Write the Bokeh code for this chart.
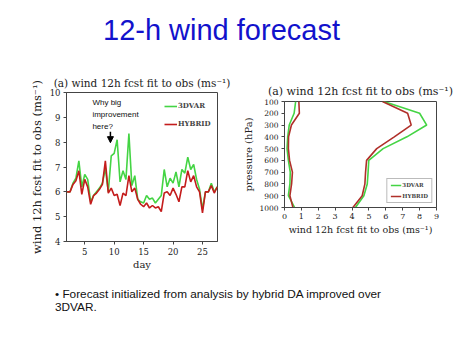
from bokeh.plotting import figure
from bokeh.layouts import column, row
from bokeh.models import (Div, Range1d, Legend, LegendItem, Label, Arrow,
                          NormalHead, FixedTicker, Title)
from bokeh.embed import file_html
from bokeh.resources import INLINE

# ---------------- data ----------------
days = [2.0, 2.5, 3.0, 3.5, 4.0, 4.5, 5.0, 5.5, 6.0, 6.5, 7.0, 7.5, 8.0, 8.5,
        9.0, 9.5, 10.0, 10.5, 11.0, 11.5, 12.0, 12.5, 13.0, 13.5, 14.0, 14.5,
        15.0, 15.5, 16.0, 16.5, 17.0, 17.5, 18.0, 18.5, 19.0, 19.5, 20.0, 20.5,
        21.0, 21.5, 22.0, 22.5, 23.0, 23.5, 24.0, 24.5, 25.0, 25.5, 26.0, 26.5,
        27.0, 27.5]
rms_3dvar = [6.0, 6.0, 6.35, 6.55, 7.25, 6.2, 6.7, 6.5, 5.6, 5.85, 6.0, 6.15,
             6.35, 6.95, 6.0, 7.45, 7.55, 8.1, 6.4, 6.85, 6.5, 8.35, 6.25, 6.65,
             5.7, 5.6, 5.55, 5.85, 5.7, 5.75, 5.55, 5.7, 5.85, 6.9, 6.2, 6.55,
             6.35, 6.8, 6.2, 6.9, 6.75, 7.4, 6.9, 7.1, 6.5, 6.1, 5.3, 6.0, 6.0,
             6.35, 6.0, 6.2]
rms_hybrid = [6.0, 6.0, 6.3, 6.45, 6.85, 5.9, 6.5, 6.2, 5.5, 5.85, 5.95, 6.1,
              6.3, 7.25, 5.95, 6.15, 5.85, 5.9, 5.45, 5.95, 5.85, 6.65, 6.0, 6.15,
              5.7, 5.5, 5.4, 5.55, 5.35, 5.45, 5.35, 5.4, 5.2, 5.95, 6.0, 5.85,
              6.15, 5.9, 5.6, 6.2, 6.2, 6.85, 6.4, 6.65, 6.2, 6.0, 5.15, 6.0,
              6.0, 6.25, 5.95, 6.2]

pressure = [100, 200, 300, 400, 500, 600, 700, 800, 900, 1000]
bias_3dvar = [0.66, 0.57, 0.28, 0.19, 0.15, 0.23, 0.34, 0.32, 0.23, 0.6]
bias_hybrid = [0.85, 0.88, 0.41, 0.24, 0.23, 0.3, 0.47, 0.42, 0.32, 0.5]
prof_3dvar = [5.88, 8.0, 8.42, 7.25, 5.84, 4.99, 4.95, 4.9, 4.7, 4.2]
prof_hybrid = [5.8, 7.29, 7.5, 6.5, 5.46, 4.86, 4.8, 4.76, 4.6, 4.05]

day_ticks = [5, 10, 15, 20, 25]
wind_ticks = [4, 5, 6, 7, 8, 9, 10]
x2_ticks = [0, 1, 2, 3, 4, 5, 6, 7, 8, 9]

GREEN = "#44d444"
RED = "#c41c1c"
RED2 = "#b0302a"
SERIF = "DejaVu Serif"
TITLE_TXT = "(a) wind 12h fcst fit to obs (ms\u207b\u00b9)"


def style(p):
    p.background_fill_color = "white"
    p.border_fill_color = "white"
    p.outline_line_color = "#444444"
    p.outline_line_width = 1
    p.xgrid.visible = False
    p.ygrid.visible = False
    for ax in (p.xaxis[0], p.yaxis[0]):
        ax.axis_line_color = "#444444"
        ax.major_tick_line_color = "#444444"
        ax.major_tick_out = 3
        ax.major_tick_in = 0
        ax.minor_tick_line_color = None
        ax.major_label_text_font = SERIF
        ax.major_label_text_font_size = "8.5px"
        ax.major_label_text_color = "#222222"
        ax.axis_label_text_font = SERIF
        ax.axis_label_text_font_size = "10px"
        ax.axis_label_text_font_style = "normal"
        ax.axis_label_text_color = "#222222"
        ax.major_label_standoff = 3


# ---------------- left chart ----------------
p1 = figure(width=240, height=210, output_backend="svg", toolbar_location=None,
            x_range=Range1d(1.9, 27.55), y_range=Range1d(4, 10),
            min_border_left=66, min_border_right=23, min_border_top=30,
            min_border_bottom=29)
p1.add_layout(Title(text=TITLE_TXT, align="center", text_font=SERIF,
                    text_font_size="10.5px", text_font_style="normal",
                    text_color="#222222", standoff=8), "above")
style(p1)
p1.xaxis.ticker = FixedTicker(ticks=day_ticks)
p1.yaxis.ticker = FixedTicker(ticks=wind_ticks)
p1.xaxis.axis_label = "day"
p1.xaxis.axis_label_standoff = 1
p1.yaxis.axis_label = TITLE_TXT.replace("(a) ", "")
p1.yaxis.axis_label_text_font_size = "11.5px"
p1.yaxis.axis_label_standoff = 3

r1g = p1.line(days, rms_3dvar, line_color=GREEN, line_width=1.6)
r1r = p1.line(days, rms_hybrid, line_color=RED, line_width=1.6)

leg1 = Legend(items=[LegendItem(label="3DVAR", renderers=[r1g]),
                     LegendItem(label="HYBRID", renderers=[r1r])],
              location=(98, 113), glyph_width=13, glyph_height=8,
              label_height=8, spacing=9, padding=0, margin=0,
              label_standoff=1, label_text_font=SERIF,
              label_text_font_size="7px", label_text_font_style="bold",
              label_text_color="#444444", border_line_color=None,
              background_fill_alpha=0)
p1.add_layout(leg1, "center")

p1.add_layout(Label(x=6.3, y=9.76, text="Why big\nimprovement\nhere?",
                    text_font="Liberation Sans", text_font_size="8px",
                    text_baseline="top", text_line_height=1.3,
                    text_color="#111111"))
p1.add_layout(Arrow(end=NormalHead(size=6, fill_color="black",
                                   line_color="black"),
                    x_start=9.36, y_start=8.42, x_end=9.36, y_end=7.98,
                    line_color="black", line_width=1.5))

# ---------------- right chart ----------------
p2 = figure(width=234, height=210, output_backend="svg", toolbar_location=None,
            x_range=Range1d(0, 9), y_range=Range1d(1000, 100),
            min_border_left=37, min_border_right=38, min_border_top=39,
            min_border_bottom=65)
p2.add_layout(Title(text=TITLE_TXT, align="center", text_font=SERIF,
                    text_font_size="11px", text_font_style="normal",
                    text_color="#222222", standoff=7), "above")
style(p2)
p2.xaxis.ticker = FixedTicker(ticks=x2_ticks)
p2.yaxis.ticker = FixedTicker(ticks=pressure)
p2.xaxis.major_label_text_font_size = "8px"
p2.yaxis.major_label_text_font_size = "7.5px"
p2.xaxis.axis_label = TITLE_TXT.replace("(a) ", "")
p2.xaxis.axis_label_text_font_size = "9.5px"
p2.xaxis.axis_label_standoff = 2
p2.yaxis.axis_label = "pressure (hPa)"
p2.yaxis.axis_label_standoff = 2

g_b = p2.line(bias_3dvar, pressure, line_color=GREEN, line_width=1.6)
r_b = p2.line(bias_hybrid, pressure, line_color=RED2, line_width=1.6)
g_p = p2.line(prof_3dvar, pressure, line_color=GREEN, line_width=1.6)
r_p = p2.line(prof_hybrid, pressure, line_color=RED2, line_width=1.6)

leg2 = Legend(items=[LegendItem(label="3DVAR", renderers=[g_p]),
                     LegendItem(label="HYBRID", renderers=[r_p])],
              location="bottom_right", glyph_width=11, glyph_height=6,
              label_height=6, spacing=5, padding=3, margin=4,
              label_standoff=1, label_text_font=SERIF,
              label_text_font_size="5.5px", label_text_font_style="bold",
              label_text_color="#444444", border_line_color="#777777",
              border_line_width=1, background_fill_color="white")
p2.add_layout(leg2, "center")

# ---------------- texts ----------------
title_div = Div(
    text='<div style="padding-left:103px;padding-top:15px;'
         'font-family:\'Liberation Sans\';font-size:29px;color:#1212cc;'
         'line-height:1.1;">12-h wind forecast</div>',
    width=474, height=62, margin=(0, 0, 0, 0))

bullet_div = Div(
    text='<div style="padding-left:55px;padding-top:16px;'
         'font-family:\'Liberation Sans\';font-size:11.8px;color:#111111;'
         'line-height:13px;">\u2022 Forecast initialized from analysis by '
         'hybrid DA improved over<br>3DVAR.</div>',
    width=474, height=83, margin=(0, 0, 0, 0))

p1.margin = (0, 0, 0, 0)
p2.margin = (0, 0, 0, 0)
left_col = column(p1, width=240, height=210, spacing=0)
right_col = column(p2, width=234, height=210, spacing=0)
layout = column(title_div, row(left_col, right_col, spacing=0), bullet_div,
                spacing=0)

open("out.html", "w").write(file_html(layout, INLINE))
